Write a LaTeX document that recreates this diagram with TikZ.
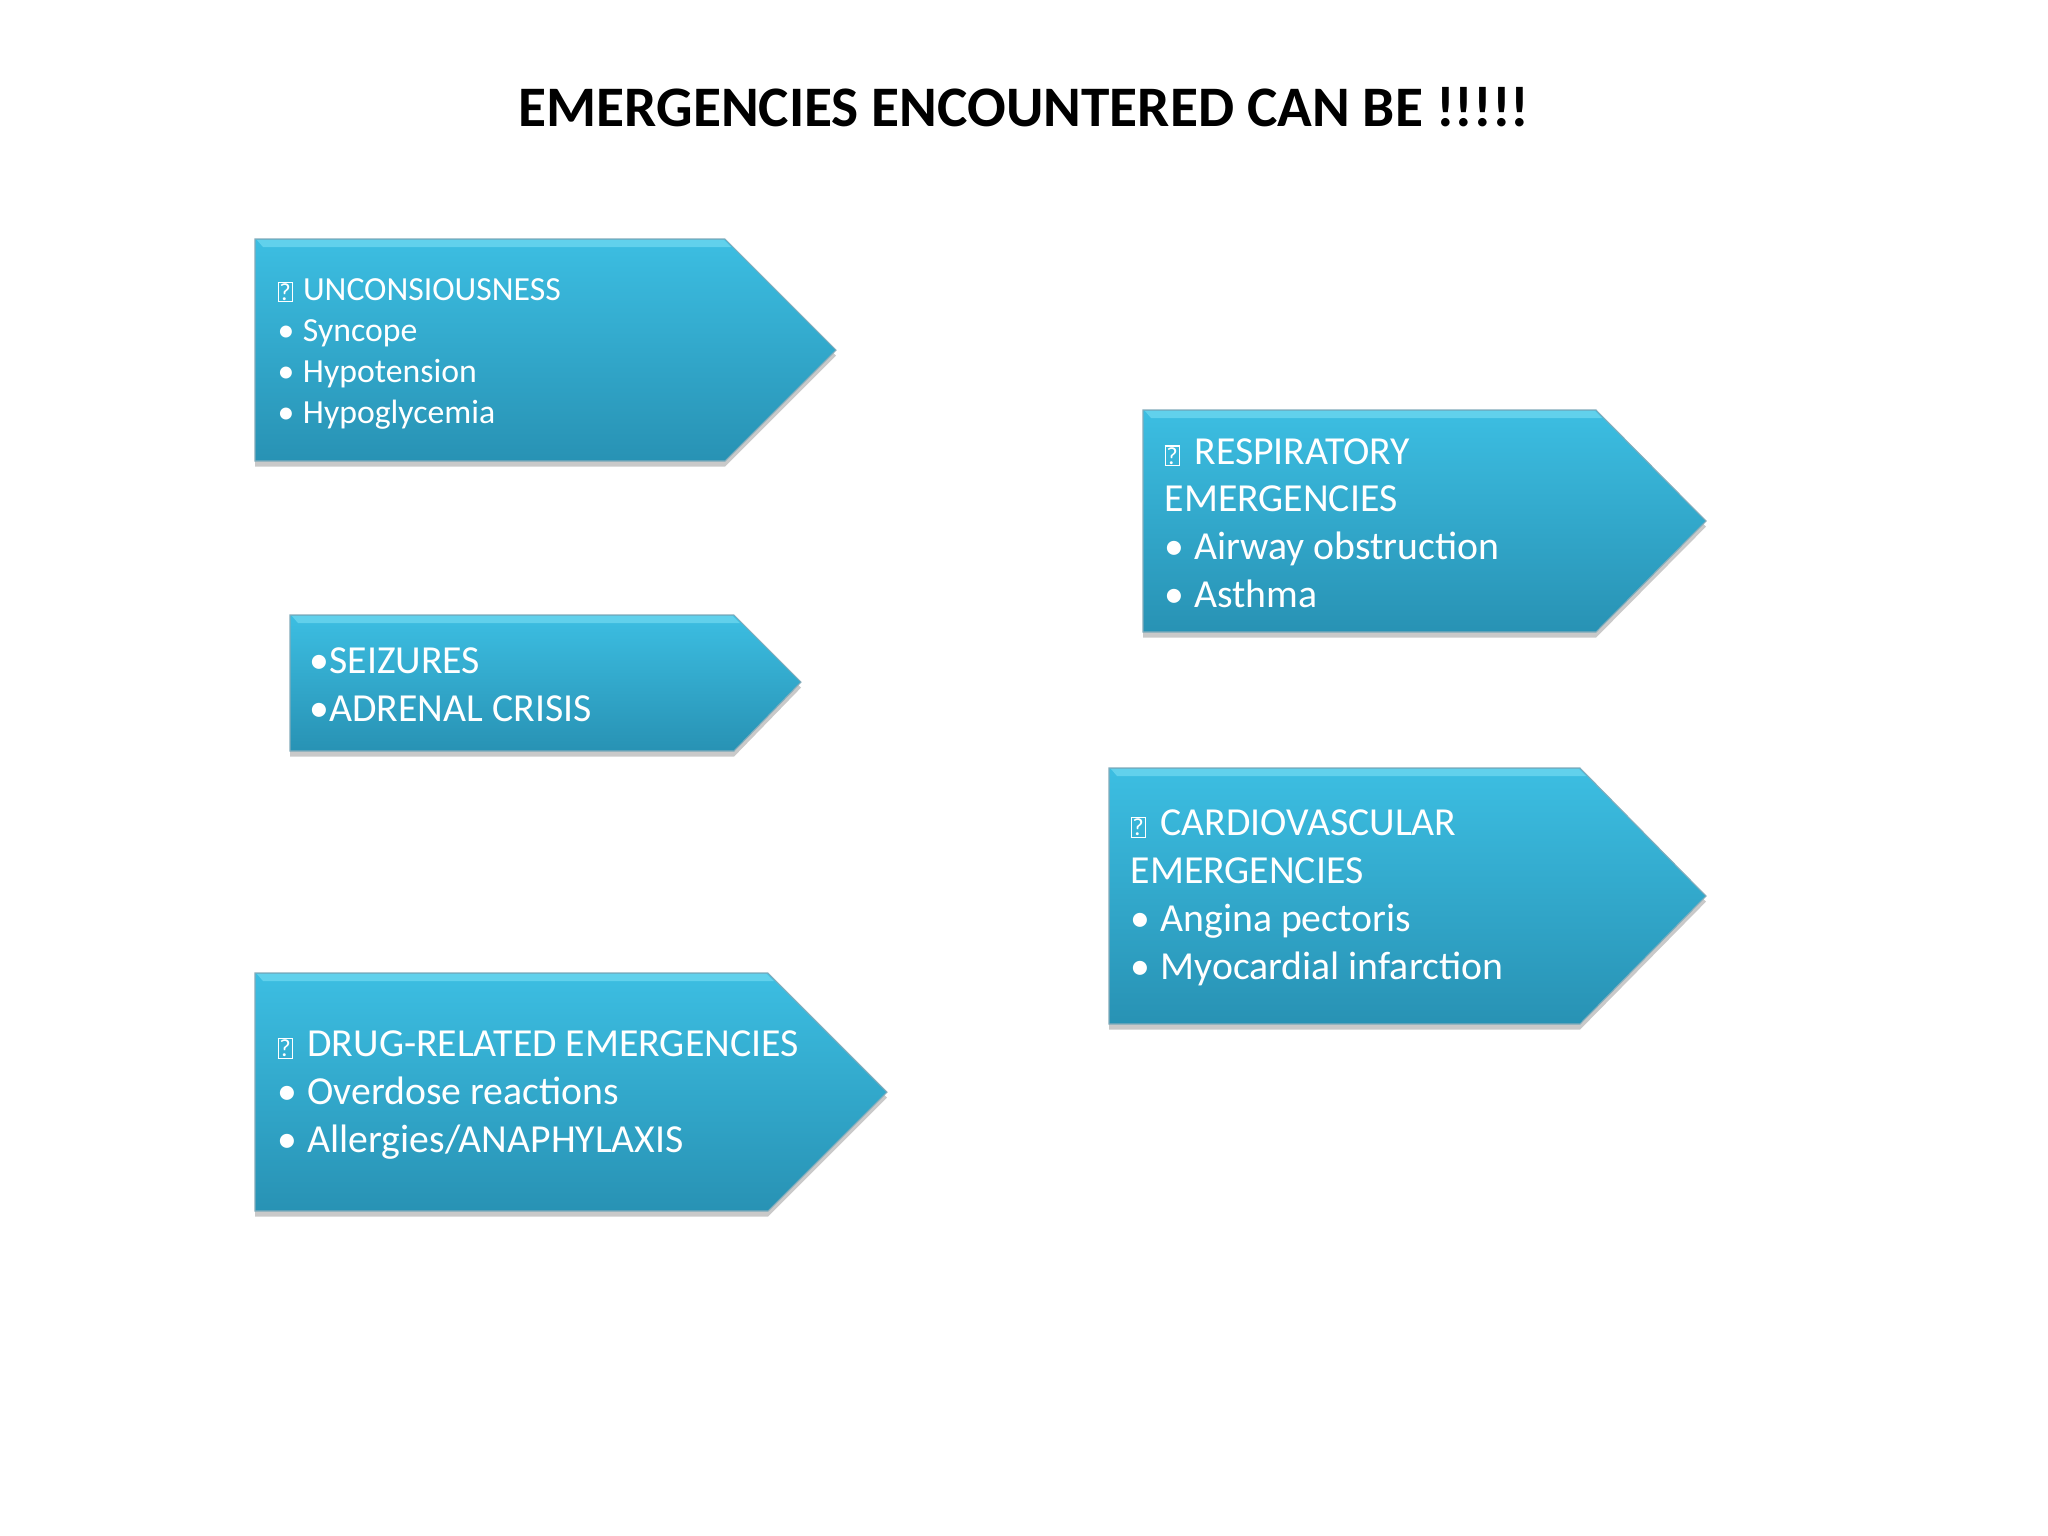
\documentclass[tikz,border=0pt]{standalone}
\usepackage{fontspec}
\setmainfont{Carlito}
\usepackage{xcolor}
\usepackage{tikz}
\usetikzlibrary{shadows}

\definecolor{boxTop}{RGB}{60,190,226}
\definecolor{boxBottom}{RGB}{40,146,180}
\definecolor{boxLight}{RGB}{110,216,240}
\definecolor{boxEdge}{RGB}{28,104,132}

% missing glyph box as printed in the picture
\newcommand{\qbox}{{\setlength\fboxsep{0.2pt}\setlength\fboxrule{0.3pt}\fbox{\fontsize{7pt}{7pt}\selectfont ?}}}
\newcommand{\itembul}{\makebox[0.75em][l]{•}}
\newcommand{\itembox}{\makebox[0.75em][l]{\qbox}}

\begin{document}
\begin{tikzpicture}[
        x=0.01cm, y=-0.01cm,
        arrowbox/.style={top color=boxTop, bottom color=boxBottom, draw=boxEdge!55, line width=0.3pt, drop shadow={shadow xshift=0pt, shadow yshift=-1.6pt, opacity=0.35, fill=black!60}},
        bevel/.style={fill=boxLight, opacity=0.75},
        smallText/.style={anchor=west, inner sep=0pt, text=white, align=left, font=\fontsize{9.6pt}{11.7pt}\selectfont},
        bigText/.style={anchor=west, inner sep=0pt, text=white, align=left, font=\fontsize{11.3pt}{13.6pt}\selectfont},
        title/.style={font=\fontsize{16.3pt}{20pt}\selectfont\bfseries, text=black}
    ]
        \fill[white] (0,0) rectangle (2048,1536);
        \useasboundingbox (0,0) rectangle (2048,1536);

        % ========== TITLE ==========
        \node[title] (heading) at (1024,107) {EMERGENCIES ENCOUNTERED CAN BE !!!!!};

        % ========== LEFT COLUMN ==========
        \path[arrowbox] (255,239) -- (725,239) -- (836,350) -- (725,461) -- (255,461) -- cycle;
        \fill[bevel] (257,240) -- (724,240) -- (731,247) -- (263,247) -- cycle;
        \node[smallText] (uncon) at (277,354) {\itembox UNCONSIOUSNESS\\\itembul Syncope\\\itembul Hypotension\\\itembul Hypoglycemia};

        \path[arrowbox] (290,615) -- (734,615) -- (801,682) -- (734,751) -- (290,751) -- cycle;
        \fill[bevel] (292,616) -- (733,616) -- (740,623) -- (298,623) -- cycle;
        \node[bigText] (seizures) at (309,685) {•SEIZURES\\•ADRENAL CRISIS};

        \path[arrowbox] (255,973) -- (768,973) -- (887,1092) -- (768,1211) -- (255,1211) -- cycle;
        \fill[bevel] (257,974) -- (767,974) -- (774,981) -- (263,981) -- cycle;
        \node[bigText] (drug) at (277,1095) {\itembox DRUG-RELATED EMERGENCIES\\\itembul Overdose reactions\\\itembul Allergies/ANAPHYLAXIS};

        % ========== RIGHT COLUMN ==========
        \path[arrowbox] (1143,410) -- (1596,410) -- (1706,521) -- (1596,632) -- (1143,632) -- cycle;
        \fill[bevel] (1145,411) -- (1595,411) -- (1602,418) -- (1151,418) -- cycle;
        \node[bigText] (resp) at (1164,523) {\itembox RESPIRATORY\\EMERGENCIES\\\itembul Airway obstruction\\\itembul Asthma};

        \path[arrowbox] (1109,768) -- (1580,768) -- (1706,896) -- (1580,1024) -- (1109,1024) -- cycle;
        \fill[bevel] (1111,769) -- (1579,769) -- (1586,776) -- (1117,776) -- cycle;
        \node[bigText] (cardio) at (1130,898) {\itembox CARDIOVASCULAR\\EMERGENCIES\\\itembul Angina pectoris\\\itembul Myocardial infarction};

    \end{tikzpicture}
\end{document}
